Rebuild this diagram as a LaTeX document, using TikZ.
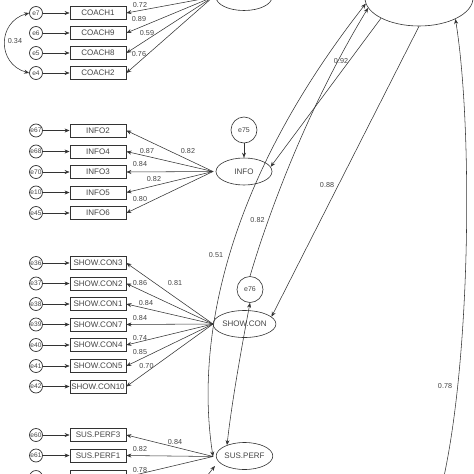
\documentclass[tikz,border=0pt]{standalone}
\usepackage{fontspec}
\setmainfont{Liberation Sans}
\usetikzlibrary{shapes.geometric,arrows.meta}
\definecolor{ln}{HTML}{333333}
\definecolor{tx}{HTML}{444444}
\tikzset{
  ind/.style={draw=ln, line width=0.8pt, minimum width=56pt, minimum height=13pt, inner sep=0pt, font=\fontsize{8}{9}\selectfont, text=tx},
  err/.style={circle, draw=ln, line width=0.7pt, minimum size=13pt, inner sep=0pt, font=\fontsize{6.6}{7}\selectfont, text=tx},
  bigerr/.style={circle, draw=ln, line width=0.6pt, minimum size=26pt, inner sep=0pt, font=\fontsize{7}{8}\selectfont, text=tx},
  lat/.style={ellipse, draw=ln, line width=0.6pt, minimum width=56pt, minimum height=27pt, inner sep=0pt, font=\fontsize{8}{9}\selectfont, text=tx},
  arr/.style={-{Stealth[length=5pt,width=4pt]}, line width=0.55pt, draw=ln},
  darr/.style={{Stealth[length=5pt,width=4pt]}-{Stealth[length=5pt,width=4pt]}, line width=0.55pt, draw=ln},
  lab/.style={font=\fontsize{7.2}{8}\selectfont, text=tx, inner sep=0pt}
}
\begin{document}
\begin{tikzpicture}[x=1pt,y=-1pt]
\useasboundingbox (0,0) rectangle (474,474);
\clip (0,0) rectangle (474,474);
% latent variables
\node[lat] (coach) at (244,-3) {COACH};
\node[ellipse, draw=ln, line width=0.6pt, minimum width=108pt, minimum height=56pt, inner sep=0pt, font=\fontsize{8}{9}\selectfont, text=tx] (big) at (419,-2) {};
\node[lat] (info) at (244,171.5) {INFO};
\node[lat] (show) at (244.5,324) {SHOW.CON};
\node[lat] (sus) at (244.5,456) {SUS.PERF};
\node[bigerr] (e75) at (244,130) {e75};
\node[bigerr] (e76) at (250,289.5) {e76};
% convergence points
\coordinate (coachP) at (213,-3);
\coordinate (infoP) at (213,171.5);
\coordinate (showP) at (213,324);
\coordinate (susP) at (213,456.5);
% COACH block
\foreach \e/\n/\b/\y in {e7/c1/COACH1/13, e6/c9/COACH9/33, e5/c8/COACH8/53, e4/c2/COACH2/73}{
  \node[err] (\e) at (36,\y) {\e};
  \node[ind] (\n) at (98,\y) {\b};
  \draw[arr] (\e) -- (\n);
  \draw[arr] (coachP) -- (\n.east);
}
\draw[darr] (e7.west) .. controls (-3,22) and (-3,64) .. (e4.west);
\node[lab] at (15,41) {0.34};
\node[lab] at (140,5) {0.72};
\node[lab] at (139,19) {0.89};
\node[lab] at (147,33) {0.59};
\node[lab] at (139,54) {0.76};
% INFO block
\foreach \e/\n/\b/\y in {e67/i2/INFO2/130.5, e68/i4/INFO4/151.5, e70/i3/INFO3/172, e10/i5/INFO5/192.5, e45/i6/INFO6/213}{
  \node[err] (\e) at (36,\y) {\e};
  \node[ind] (\n) at (98,\y) {\b};
  \draw[arr] (\e) -- (\n);
  \draw[arr] (infoP) -- (\n.east);
}
\node[lab] at (188,151.5) {0.82};
\node[lab] at (147,151.5) {0.87};
\node[lab] at (140,164) {0.84};
\node[lab] at (154,179) {0.82};
\node[lab] at (140,199) {0.80};
\draw[arr] (e75) -- (info);
% SHOW.CON block
\foreach \e/\n/\b/\y in {e36/s3/SHOW.CON3/263, e37/s2/SHOW.CON2/283.5, e38/s1/SHOW.CON1/304, e39/s7/SHOW.CON7/324.5, e40/s4/SHOW.CON4/345, e41/s5/SHOW.CON5/366, e42/s10/SHOW.CON10/386.5}{
  \node[err] (\e) at (36,\y) {\e};
  \node[ind] (\n) at (98,\y) {\b};
  \draw[arr] (\e) -- (\n);
  \draw[arr] (showP) -- (\n.east);
}
\node[lab] at (175,283) {0.81};
\node[lab] at (140,283) {0.86};
\node[lab] at (146,303) {0.84};
\node[lab] at (140,318) {0.84};
\node[lab] at (140,338) {0.74};
\node[lab] at (140,352) {0.85};
\node[lab] at (146.5,366) {0.70};
% SUS.PERF block
\foreach \e/\n/\b/\y in {e60/p3/SUS.PERF3/435, e61/p1/SUS.PERF1/455.5}{
  \node[err] (\e) at (36,\y) {\e};
  \node[ind] (\n) at (98,\y) {\b};
  \draw[arr] (\e) -- (\n);
  \draw[arr] (susP) -- (\n.east);
}
\node[err] (e62) at (36,477) {};
\node[ind] (sp3) at (98,477) {};
\draw[arr] (e62) -- (sp3);
\draw[arr] (susP) -- (sp3.east);
\node[lab] at (175,442) {0.84};
\node[lab] at (140,449) {0.82};
\node[lab] at (140,470) {0.78};
% structural paths
\draw[arr] (big.208) -- (info.10);
\node[lab] at (341,61) {0.92};
\draw[arr] (big.south) -- (show.15);
\node[lab] at (327,185.5) {0.88};
\draw[darr] (susP) .. controls (198,360) and (212,200) .. (big.186);
\node[lab] at (216,255) {0.51};
\draw[arr] (e76.north) .. controls (262,235) and (300,120) .. (big.191);
\node[lab] at (257.5,220.5) {0.82};
\draw[darr] (sus.148) .. controls (232,400) and (243,340) .. (e76.south);
\coordinate (bl) at (203,481);
\draw[arr] (bl) -- ([xshift=-1pt,yshift=-10pt]sus.west);
\coordinate (br) at (443,481);
\draw[arr] (br) .. controls (472,350) and (472,120) .. (big.330);
\node[lab] at (445,386) {0.78};
\end{tikzpicture}
\end{document}
